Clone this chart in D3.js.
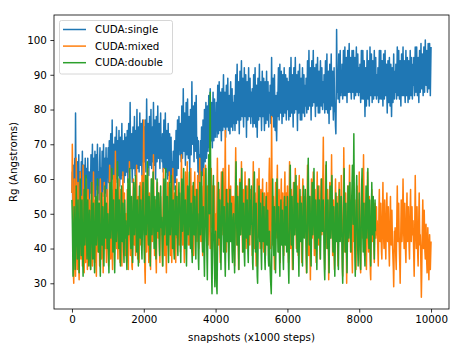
<!DOCTYPE html>
<html>
<head>
<meta charset="utf-8">
<script src="https://cdn.jsdelivr.net/npm/d3@7/dist/d3.min.js"></script>
<style>
  html, body { margin: 0; padding: 0; background: #fff; }
  svg { display: block; font-family: "DejaVu Sans", sans-serif; }
</style>
</head>
<body>
<svg id="chart" width="474" height="348"></svg>
<script>
// snapshot spacing (x1000 steps) between stored samples
const snapshotStep = 10;

const seriesNames = ["CUDA:single", "CUDA:mixed", "CUDA:double"];
const seriesColors = ["#1f77b4", "#ff7f0e", "#2ca02c"];

const singleValues = [
  56,62,53,58,64,54,51,59,66,56,79,62,54,49,58,65,55,52,60,67,57,53,62,56,51,59,65,54,60,68,56,52,58,64,55,50,59,66,57,54,63,56,53,60,66,57,55,62,54,59,
  62,56,60,67,57,54,63,70,59,56,61,66,55,59,68,62,53,60,67,57,63,70,60,56,62,58,54,65,69,59,57,63,56,61,68,58,55,64,70,60,57,61,66,56,62,69,59,55,63,66,
  63,69,59,64,71,61,56,66,73,63,59,66,77,66,60,64,70,61,56,66,72,63,60,68,75,64,59,65,71,61,67,74,62,58,66,72,63,60,69,76,65,61,65,71,62,59,68,73,63,61,
  66,72,62,67,74,64,59,69,76,66,62,70,82,70,63,67,73,64,59,69,75,66,63,71,78,67,61,67,74,64,70,80,69,63,68,75,65,62,72,79,68,64,69,76,66,61,71,77,67,65,
  69,75,65,71,77,67,62,72,83,73,66,70,76,66,61,71,78,68,64,73,80,69,63,69,75,65,72,82,71,64,70,77,67,60,71,78,69,65,73,81,70,66,71,76,67,63,72,79,68,66,
  70,65,73,66,62,70,77,67,63,71,79,68,62,68,74,64,60,69,76,65,61,68,73,63,59,67,72,62,58,65,56,63,68,60,57,66,71,62,59,68,74,65,61,70,77,67,63,72,78,69,
  73,67,76,69,65,74,81,70,66,75,86,75,68,73,79,69,64,74,82,71,67,76,83,72,66,72,78,68,62,71,80,71,67,77,88,77,70,75,81,71,65,74,82,73,68,76,84,73,66,72,
  68,62,71,64,59,67,57,64,71,61,68,75,65,61,70,77,67,63,72,80,69,65,74,82,71,66,75,81,71,68,77,84,73,69,78,86,76,71,76,82,73,69,78,85,75,71,79,83,74,72,
  79,74,82,76,72,81,87,77,73,82,88,78,74,79,85,76,71,80,86,77,74,83,90,79,75,80,85,76,72,81,87,78,75,83,89,79,74,79,84,75,73,82,88,78,75,81,86,77,74,82,
  81,76,84,78,74,83,90,80,76,85,93,82,77,82,88,79,73,83,91,81,77,86,94,84,78,83,89,79,75,84,92,82,78,86,90,80,72,81,88,81,77,85,92,82,78,83,89,80,76,85,
  84,78,86,79,75,83,90,80,76,85,92,81,75,81,87,78,72,82,89,80,77,85,93,83,78,83,88,79,74,83,91,82,78,86,89,79,74,82,88,79,76,84,91,81,77,82,88,79,75,84,
  85,79,87,80,76,84,95,84,78,83,89,80,75,84,90,79,74,79,84,75,71,78,85,78,86,92,82,77,85,93,83,79,87,91,81,76,84,90,81,78,86,92,82,79,85,90,81,77,85,89,
  86,80,88,81,77,85,92,82,78,87,95,84,79,84,90,81,75,85,92,83,79,87,95,85,80,85,90,81,74,84,91,83,79,87,93,83,77,83,89,80,77,86,92,83,79,84,90,81,78,86,
  87,81,89,83,79,87,94,84,80,89,97,86,81,86,92,83,77,87,94,85,81,89,97,87,82,87,92,83,78,86,93,85,81,89,95,85,79,85,91,82,79,88,94,85,81,86,92,83,80,88,
  88,82,90,83,79,87,94,84,80,89,96,85,79,85,91,82,76,86,93,84,80,88,96,86,81,86,91,82,77,85,92,84,80,79,75,73,85,103,93,85,91,83,89,96,86,82,90,97,87,84,
  91,85,93,87,83,91,97,88,84,92,98,89,84,89,95,86,82,90,97,88,85,93,99,90,85,90,95,86,83,91,97,88,85,93,97,88,83,89,95,86,84,92,98,89,85,90,96,87,84,92,
  91,85,93,86,82,90,97,87,83,91,97,88,83,88,94,85,78,86,92,84,81,90,97,87,83,88,94,85,81,89,98,89,84,91,96,87,82,88,94,85,83,91,97,88,84,89,95,86,83,90,
  90,84,92,85,82,90,97,87,83,91,97,88,83,88,94,85,81,89,96,87,83,91,97,88,84,88,93,84,79,87,94,86,82,90,95,86,81,87,93,84,78,85,92,85,82,90,96,87,83,89,
  91,85,93,86,83,91,98,88,84,92,97,87,83,88,94,85,81,89,96,87,84,91,98,88,84,89,94,85,82,90,97,88,84,92,95,86,82,88,94,85,83,91,97,88,84,89,95,86,83,90,
  93,87,95,88,84,92,98,89,85,93,98,89,84,89,95,86,82,90,97,89,85,93,99,90,86,91,96,87,84,92,98,89,85,93,100,92,87,92,97,88,85,93,99,90,86,94,99,91,84,91,
  98
];

const mixedValues = [
  56,70,63,47,33,30,44,60,50,38,32,46,66,52,40,34,48,59,45,36,31,42,56,62,49,37,46,55,43,35,50,64,54,42,33,41,54,47,36,45,60,51,41,34,47,57,48,38,44,54,
  46,39,34,48,59,50,40,35,45,55,62,49,41,36,46,54,43,35,32,42,51,58,47,39,45,53,42,35,48,60,51,42,37,46,56,47,39,33,44,54,59,48,40,45,52,42,36,47,57,49,
  45,39,35,47,58,64,51,42,37,48,57,46,39,34,44,55,61,50,41,47,56,68,57,45,40,48,54,44,37,44,53,60,49,41,36,46,57,48,40,35,45,55,62,51,43,49,56,45,38,47,
  50,43,36,46,57,50,41,34,45,55,65,55,45,38,48,54,43,35,34,43,53,60,49,41,47,56,45,38,45,58,64,52,43,37,47,55,44,36,43,52,59,49,41,46,54,61,51,44,56,66,
  77,58,43,34,30,42,55,48,39,47,58,63,51,42,36,45,56,47,40,34,44,54,60,50,42,48,57,67,56,45,38,46,54,44,37,33,43,53,59,49,43,48,56,47,40,36,46,55,49,44,
  48,42,35,45,56,63,53,44,38,47,54,46,38,33,42,52,59,49,42,47,55,62,51,43,38,46,53,43,36,45,57,63,52,44,40,48,56,47,40,36,45,54,60,50,43,47,55,45,41,49,
  52,46,39,48,59,67,58,48,41,50,57,48,41,36,45,55,62,52,45,49,58,65,54,46,41,50,57,48,41,47,56,63,53,45,39,48,58,50,43,38,47,57,62,52,45,50,57,48,42,51,
  61,53,45,40,49,59,66,56,47,42,51,58,49,42,38,47,57,63,53,46,50,59,64,55,47,42,51,58,49,41,47,56,61,51,44,40,49,59,63,54,46,51,58,49,43,48,56,58,50,45,
  50,44,37,46,57,66,56,47,41,50,57,49,41,36,46,56,62,52,44,49,58,63,53,45,40,50,61,74,58,46,39,48,57,49,42,47,57,64,54,46,42,50,58,50,43,48,55,47,41,50,
  55,47,39,35,46,59,69,58,47,41,50,58,49,41,34,44,54,60,50,44,48,57,65,54,45,39,49,57,48,40,46,55,62,52,44,40,49,58,50,42,47,56,60,51,44,41,50,57,49,47,
  52,45,38,45,57,65,55,46,40,49,56,48,40,35,44,54,60,50,43,48,57,63,53,45,40,49,57,48,40,46,55,60,50,43,39,47,56,49,42,38,46,55,59,50,44,48,56,50,45,61,
  66,57,47,40,47,58,78,60,48,41,47,55,46,39,34,44,54,59,50,43,48,57,64,53,45,39,48,57,49,41,36,45,55,60,50,43,47,56,49,42,38,47,57,62,52,45,49,56,48,50,
  58,50,42,36,46,57,65,55,46,40,49,57,48,40,34,44,54,59,50,44,48,56,63,52,45,40,49,58,50,42,38,47,57,61,51,43,47,55,48,41,36,46,56,60,50,44,48,55,47,46,
  55,47,39,33,43,55,64,54,45,38,47,55,46,37,31,41,52,60,50,43,47,56,62,52,44,38,48,57,49,42,36,45,55,62,52,44,41,49,58,50,42,37,46,56,60,51,44,48,57,63,
  72,58,46,38,34,44,55,64,53,45,40,49,57,48,40,31,40,52,59,50,43,47,56,67,55,45,38,47,54,45,38,34,44,54,60,50,43,47,55,46,39,35,45,55,59,49,43,48,55,48,
  61,51,42,35,32,42,54,69,57,46,39,48,56,47,39,30,39,50,58,49,42,46,55,64,54,45,39,47,54,45,37,33,43,53,59,49,42,46,54,45,38,34,44,54,58,48,42,47,54,50,
  62,52,42,35,33,42,53,60,50,43,47,57,67,56,45,38,45,53,44,37,34,43,52,62,52,44,39,47,55,46,39,33,31,41,52,57,48,42,46,54,47,41,36,45,53,48,43,46,52,44,
  48,43,39,35,43,52,57,48,42,46,53,45,39,37,44,52,59,50,43,40,46,54,47,41,37,44,52,56,48,42,45,52,44,39,35,42,50,55,47,41,44,51,45,40,37,34,29,37,45,42,
  46,41,37,34,42,51,58,48,42,46,53,45,39,35,30,38,47,54,47,42,45,52,60,52,44,40,46,53,45,39,36,43,51,56,48,42,45,52,46,40,37,44,52,57,48,42,46,52,45,44,
  48,42,37,32,40,50,61,52,44,40,46,52,44,38,35,42,50,56,47,41,44,40,33,26,32,41,48,54,46,40,44,51,45,39,37,43,47,42,36,33,41,46,40,35,31,38,44,40,34,38,
  42
];

const doubleValues = [
  54,48,40,32,36,45,52,46,38,34,42,51,58,48,41,37,45,54,46,39,33,41,49,60,50,42,38,46,54,45,37,32,40,48,57,48,41,45,53,61,50,42,37,46,54,47,40,35,44,51,
  45,39,34,42,50,59,49,42,37,45,53,45,38,33,41,49,55,47,41,45,51,60,51,43,39,46,53,44,37,32,40,48,56,48,41,45,52,44,38,35,43,51,58,49,43,47,53,45,40,46,
  50,43,37,33,41,50,59,50,43,47,55,63,53,44,39,46,54,45,38,33,40,49,57,49,42,46,54,65,55,45,40,47,54,46,39,35,43,52,58,49,42,46,53,45,39,36,45,54,48,43,
  48,42,37,34,42,52,60,51,44,48,56,63,54,45,40,47,55,47,40,36,44,53,59,50,44,48,55,61,52,44,39,46,54,46,39,35,43,52,58,49,43,47,54,46,40,37,45,54,59,50,
  47,41,36,44,54,61,51,44,49,57,65,55,46,41,48,55,47,40,35,43,53,60,51,44,48,56,62,53,45,40,47,55,47,41,37,45,54,60,51,45,49,56,48,42,38,46,54,58,50,46,
  49,43,38,35,43,53,60,51,44,48,56,63,54,46,41,48,55,47,40,36,44,53,59,50,44,48,55,61,52,45,40,47,54,46,39,37,45,54,58,50,44,48,55,47,41,38,46,55,59,51,
  56,48,41,36,44,54,60,51,45,49,56,63,53,45,40,47,54,46,39,35,43,52,58,50,44,48,55,62,52,45,40,47,53,45,39,36,44,53,59,50,44,48,55,47,41,37,45,54,57,49,
  50,43,37,34,42,52,59,50,44,48,55,62,52,44,39,46,52,44,37,32,41,51,58,63,53,44,37,31,41,52,60,67,60,50,72,85,66,52,40,32,27,36,46,57,61,50,41,34,29,38,
  45,39,33,29,27,36,45,54,59,50,43,47,54,46,39,34,42,51,58,62,54,45,39,45,52,44,37,32,40,49,57,49,42,46,53,45,38,34,42,51,57,48,42,46,53,45,39,36,44,49,
  50,43,37,33,41,51,59,65,56,46,41,48,55,46,39,34,43,53,59,50,44,48,56,63,53,45,39,46,53,45,38,35,43,52,58,49,43,47,54,46,39,36,44,53,60,51,44,48,54,47,
  58,50,42,36,34,42,51,57,62,53,44,39,46,53,44,37,32,30,38,47,54,58,49,42,46,53,45,38,34,42,51,56,48,42,45,52,44,37,34,42,50,55,47,41,44,51,43,37,35,40,
  45,39,34,31,29,27,34,43,52,60,51,43,38,45,52,44,37,33,40,48,55,60,52,44,39,46,52,44,37,32,40,48,54,47,41,44,51,43,37,34,41,50,55,47,41,45,52,44,39,45,
  55,48,40,34,30,38,47,56,64,55,46,41,48,55,46,39,34,42,52,59,50,44,48,55,61,52,44,39,46,53,45,38,32,41,50,57,49,42,46,53,45,39,35,43,52,58,49,43,47,46,
  57,50,42,37,33,41,50,60,66,56,46,41,48,55,46,39,35,43,52,59,50,44,48,56,63,53,45,40,47,54,46,39,34,42,51,58,49,43,47,54,46,40,37,45,54,60,51,45,49,45,
  54,48,40,34,31,39,48,58,65,55,45,40,47,54,45,38,33,41,50,58,49,43,47,54,61,52,44,39,46,52,44,37,32,40,49,56,48,42,46,53,45,38,34,42,51,57,48,42,46,44,
  55,48,40,34,30,38,47,56,63,53,44,39,46,53,45,38,33,41,50,58,50,43,47,55,59,51,43,39,46,54,59,64,55,47,60,73,58,45,37,32,40,49,57,61,52,44,39,35,42,45,
  56,49,41,36,34,41,50,59,63,53,44,39,46,53,45,38,35,43,51,58,50,43,47,55,63,54,45,40,47,54,46,39,35,43,51,59,50,44,48,55,47,41,37,45,54,45
];

const xTicks = [0, 2000, 4000, 6000, 8000, 10000];
const yTicks = [30, 40, 50, 60, 70, 80, 90, 100];
const xLabel = "snapshots (x1000 steps)";
const yLabel = "Rg (Angstroms)";

const allSeries = [singleValues, mixedValues, doubleValues];

const svg = d3.select("#chart");
const plot = { left: 54, right: 449, top: 15, bottom: 309 };

const x = d3.scaleLinear().domain([-500, 10500]).range([plot.left, plot.right]);
const y = d3.scaleLinear().domain([22.6, 107.2]).range([plot.bottom, plot.top]);

svg.append("clipPath").attr("id", "clip")
  .append("rect")
  .attr("x", plot.left).attr("y", plot.top)
  .attr("width", plot.right - plot.left).attr("height", plot.bottom - plot.top);

const line = d3.line()
  .x((d, i) => x(i * snapshotStep))
  .y(d => y(d));

const g = svg.append("g").attr("clip-path", "url(#clip)");
allSeries.forEach((vals, k) => {
  g.append("path")
    .datum(vals)
    .attr("fill", "none")
    .attr("stroke", seriesColors[k])
    .attr("stroke-width", 1.5)
    .attr("stroke-linejoin", "round")
    .attr("d", line);
});

// axes
const xAxis = d3.axisBottom(x).tickValues(xTicks).tickSize(3.6).tickPadding(3.5).tickFormat(d3.format("d"));
const yAxis = d3.axisLeft(y).tickValues(yTicks).tickSize(3.6).tickPadding(3.5).tickFormat(d3.format("d"));

const gx = svg.append("g").attr("transform", `translate(0,${plot.bottom})`).call(xAxis);
const gy = svg.append("g").attr("transform", `translate(${plot.left},0)`).call(yAxis);
[gx, gy].forEach(a => {
  a.select(".domain").remove();
  a.selectAll(".tick line").attr("stroke", "#000").attr("stroke-width", 0.8);
  a.selectAll(".tick text").attr("fill", "#000").style("font-size", "10.3px").style("font-family", "DejaVu Sans, sans-serif");
});

// frame
svg.append("rect")
  .attr("x", plot.left).attr("y", plot.top)
  .attr("width", plot.right - plot.left).attr("height", plot.bottom - plot.top)
  .attr("fill", "none").attr("stroke", "#000").attr("stroke-width", 0.8);

// axis labels
svg.append("text")
  .attr("x", (plot.left + plot.right) / 2).attr("y", 341)
  .attr("text-anchor", "middle")
  .style("font-size", "10.3px")
  .text(xLabel);

svg.append("text")
  .attr("transform", `translate(17,${(plot.top + plot.bottom) / 2}) rotate(-90)`)
  .attr("text-anchor", "middle")
  .style("font-size", "10.3px")
  .text(yLabel);

// legend
const lg = svg.append("g");
lg.append("rect")
  .attr("x", 59.5).attr("y", 20.5).attr("width", 113).attr("height", 53.5)
  .attr("rx", 2).attr("ry", 2)
  .attr("fill", "#fff").attr("fill-opacity", 0.8)
  .attr("stroke", "#cccccc").attr("stroke-width", 0.8);
seriesNames.forEach((name, k) => {
  const yy = 29.5 + k * 16.6;
  lg.append("line")
    .attr("x1", 63).attr("x2", 86).attr("y1", yy).attr("y2", yy)
    .attr("stroke", seriesColors[k]).attr("stroke-width", 1.5);
  lg.append("text")
    .attr("x", 95).attr("y", yy).attr("dy", "0.35em")
    .style("font-size", "10.3px")
    .text(name);
});
</script>
</body>
</html>
